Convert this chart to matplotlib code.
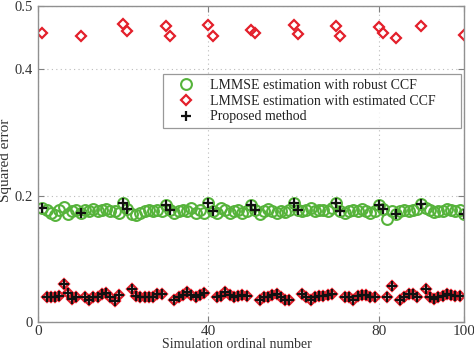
import numpy as np
import matplotlib
matplotlib.use('Agg')
import matplotlib.pyplot as plt

plt.rcParams['font.family'] = ['Liberation Serif', 'DejaVu Serif']

x = np.arange(1, 101)

# LMMSE with robust CCF
robust = [0.180, 0.178, 0.173, 0.169, 0.178, 0.182, 0.171, 0.176, 0.178, 0.173,
          0.178, 0.175, 0.179, 0.175, 0.177, 0.179, 0.175, 0.176, 0.173, 0.188,
          0.179, 0.171, 0.169, 0.172, 0.175, 0.177, 0.176, 0.178, 0.175, 0.185,
          0.177, 0.172, 0.175, 0.178, 0.175, 0.180, 0.172, 0.178, 0.172, 0.188,
          0.176, 0.172, 0.180, 0.178, 0.172, 0.176, 0.178, 0.172, 0.175, 0.185,
          0.178, 0.171, 0.175, 0.179, 0.176, 0.172, 0.176, 0.174, 0.178, 0.188,
          0.178, 0.175, 0.178, 0.180, 0.175, 0.178, 0.178, 0.175, 0.180, 0.189,
          0.176, 0.172, 0.175, 0.178, 0.176, 0.179, 0.176, 0.172, 0.175, 0.185,
          0.179, 0.163, 0.175, 0.171, 0.175, 0.178, 0.176, 0.178, 0.179, 0.187,
          0.180, 0.178, 0.174, 0.176, 0.175, 0.179, 0.178, 0.176, 0.178, 0.171]

# LMMSE with estimated CCF
estimated = [0.457, 0.040, 0.040, 0.040, 0.041, 0.060, 0.046, 0.037, 0.039, 0.453,
             0.039, 0.035, 0.039, 0.040, 0.044, 0.046, 0.039, 0.034, 0.042, 0.471,
             0.461, 0.053, 0.041, 0.039, 0.039, 0.039, 0.040, 0.044, 0.045, 0.469,
             0.452, 0.035, 0.039, 0.042, 0.048, 0.042, 0.040, 0.042, 0.046, 0.470,
             0.452, 0.040, 0.041, 0.048, 0.042, 0.040, 0.041, 0.042, 0.041, 0.462,
             0.457, 0.035, 0.039, 0.039, 0.042, 0.045, 0.039, 0.035, 0.035, 0.470,
             0.456, 0.044, 0.040, 0.035, 0.039, 0.041, 0.041, 0.042, 0.044, 0.468,
             0.453, 0.040, 0.039, 0.035, 0.041, 0.042, 0.042, 0.040, 0.039, 0.466,
             0.458, 0.039, 0.057, 0.450, 0.035, 0.040, 0.045, 0.044, 0.040, 0.469,
             0.053, 0.039, 0.037, 0.039, 0.041, 0.045, 0.042, 0.041, 0.041, 0.454]

robust = np.array(robust)
estimated = np.array(estimated)
# proposed method follows the estimated CCF unless it fails, then falls back to robust
proposed = np.where(estimated > 0.3, robust, estimated)

fig = plt.figure(figsize=(4.74, 3.51), dpi=100)
ax = fig.add_axes([38 / 474, 1 - 322 / 351, 426 / 474, 316 / 351])

green = '#56b33b'
red = '#e3202b'

ax.plot(x, robust, 'o', ls='none', mfc='none', mec=green, mew=1.5, ms=7.8,
        label='LMMSE estimation with robust CCF')
ax.plot(x, estimated, 'D', ls='none', mfc='none', mec=red, mew=1.6, ms=5.6,
        label='LMMSE estimation with estimated CCF')
ax.plot(x, proposed, '+', ls='none', color='#111111', mew=1.6, ms=6.5,
        label='Proposed method')

ax.set_xlim(0, 100)
ax.set_ylim(0, 0.5)
ax.set_xticks([0, 40, 80, 100])
ax.set_xticklabels(['0', '40', '80', '100'])
ax.set_yticks([0, 0.2, 0.4, 0.5])
ax.set_yticklabels(['0', '0.2', '0.4', '0.5'])

ax.grid(True, ls=(0, (1, 3)), color='#bbbbbb', lw=0.8)
ax.tick_params(direction='in', length=4, color='#808080',
               labelcolor='#333333', top=True, right=True)
ax.tick_params(axis='x', labelsize=11, pad=2.5)
ax.tick_params(axis='y', labelsize=10.5, pad=4)
for s in ax.spines.values():
    s.set_color('#909090')
    s.set_linewidth(1.0)

fig.text(6 / 474, 1 - 160 / 351, 'Squared error', fontsize=11, color='#333333',
         rotation=90, ha='center', va='center')
fig.text(237 / 474, 1 - 337.5 / 351, 'Simulation ordinal number', fontsize=10,
         color='#333333', ha='center', va='top')

leg = ax.legend(loc='upper left',
                bbox_to_anchor=((163 - 38) / 426, (322 - 129) / 316, 298 / 426, 55 / 316),
                mode='expand', fontsize=10, frameon=True, fancybox=False,
                borderpad=0.35, handletextpad=0.4, labelspacing=0.2, handlelength=2.6,
                borderaxespad=0)
leg.get_frame().set_edgecolor('#808080')
leg.get_frame().set_linewidth(0.9)
for t in leg.get_texts():
    t.set_color('#222222')

fig.savefig('out.png', dpi=100)
